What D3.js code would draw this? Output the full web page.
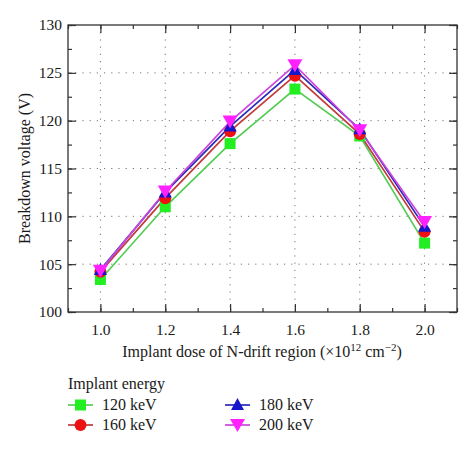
<!DOCTYPE html>
<html><head><meta charset="utf-8">
<script src="https://cdn.jsdelivr.net/npm/d3@7"></script>
<style>body{margin:0;background:#fff;} text{font-family:"Liberation Serif","Times New Roman","DejaVu Serif",serif;fill:#1a1a1a;}</style>
</head><body>
<svg id="c" width="474" height="450"></svg>
<script>
const doses = [1.0, 1.2, 1.4, 1.6, 1.8, 2.0];
const e120 = [103.4, 111.0, 117.6, 123.3, 118.4, 107.2];
const e160 = [104.2, 111.9, 118.9, 124.7, 118.6, 108.4];
const e180 = [104.4, 112.5, 119.4, 125.3, 119.1, 108.9];
const e200 = [104.3, 112.6, 119.9, 125.8, 119.0, 109.4];
const seriesNames = ["120 keV", "160 keV", "180 keV", "200 keV"];
const xTicks = [1.0, 1.2, 1.4, 1.6, 1.8, 2.0];
const yTicks = [100, 105, 110, 115, 120, 125, 130];

const series = [
  {name: seriesNames[0], vals: e120, line: "#55cc55", fill: "#22ee22", sym: "square"},
  {name: seriesNames[1], vals: e160, line: "#c23a3a", fill: "#ee1111", sym: "circle"},
  {name: seriesNames[2], vals: e180, line: "#2a2ab8", fill: "#1515cc", sym: "tri"},
  {name: seriesNames[3], vals: e200, line: "#cc44dd", fill: "#ff22ff", sym: "tridown"}
];

const svg = d3.select("#c");
const L = 68, R = 457, T = 25, B = 312;
const x = d3.scaleLinear().domain([0.9, 2.1]).range([L, R]);
const y = d3.scaleLinear().domain([100, 130]).range([B, T]);

// grid
const g = svg.append("g");
g.selectAll(".gx").data(xTicks).enter().append("line")
  .attr("x1", d => x(d)).attr("x2", d => x(d)).attr("y1", T).attr("y2", B)
  .attr("stroke", "#777").attr("stroke-width", 1).attr("stroke-dasharray", "1.2,6");
g.selectAll(".gy").data(yTicks.slice(1, -1)).enter().append("line")
  .attr("y1", d => y(d)).attr("y2", d => y(d)).attr("x1", L).attr("x2", R)
  .attr("stroke", "#777").attr("stroke-width", 1).attr("stroke-dasharray", "1.2,6");

// axes with inward ticks
const xMinor = d3.range(0.9, 2.1001, 0.1).map(v => +v.toFixed(2));
const yMinor = d3.range(100, 130.01, 2.5);
const fmtX = d3.format(".1f");
function addAxis(axis, tr) {
  const a = svg.append("g").attr("transform", tr).call(axis);
  a.select(".domain").remove();
  a.selectAll("line").attr("stroke", "#333").attr("stroke-width", 1.2);
  a.attr("font-family", null);
  return a;
}
// bottom
addAxis(d3.axisBottom(x).tickValues(xMinor).tickSize(-4).tickFormat(""), `translate(0,${B})`);
const xb = addAxis(d3.axisBottom(x).tickValues(xTicks).tickSize(-8).tickPadding(12).tickFormat(fmtX), `translate(0,${B})`);
xb.selectAll("text").attr("font-size", 15.5);
// top
addAxis(d3.axisTop(x).tickValues(xMinor).tickSize(-4).tickFormat(""), `translate(0,${T})`);
addAxis(d3.axisTop(x).tickValues(xTicks).tickSize(-8).tickFormat(""), `translate(0,${T})`);
// left
addAxis(d3.axisLeft(y).tickValues(yMinor).tickSize(-4).tickFormat(""), `translate(${L},0)`);
const yl = addAxis(d3.axisLeft(y).tickValues(yTicks).tickSize(-8).tickPadding(6).tickFormat(d3.format("d")), `translate(${L},0)`);
yl.selectAll("text").attr("font-size", 15.5);
// right
addAxis(d3.axisRight(y).tickValues(yMinor).tickSize(-4).tickFormat(""), `translate(${R},0)`);
addAxis(d3.axisRight(y).tickValues(yTicks).tickSize(-8).tickFormat(""), `translate(${R},0)`);

svg.append("rect").attr("x", L).attr("y", T).attr("width", R - L).attr("height", B - T)
  .attr("fill", "none").attr("stroke", "#333").attr("stroke-width", 1.3);

function drawMarker(sel, sym, cx, cy, fill) {
  if (sym === "square") {
    sel.append("rect").attr("x", cx - 5.5).attr("y", cy - 5.5).attr("width", 11).attr("height", 11).attr("fill", fill);
  } else if (sym === "circle") {
    sel.append("circle").attr("cx", cx).attr("cy", cy).attr("r", 6).attr("fill", fill);
  } else if (sym === "tri") {
    sel.append("path").attr("d", `M${cx},${cy - 7}L${cx + 6.5},${cy + 5}L${cx - 6.5},${cy + 5}Z`).attr("fill", fill);
  } else {
    sel.append("path").attr("d", `M${cx - 7.5},${cy - 6}L${cx + 7.5},${cy - 6}L${cx},${cy + 7}Z`).attr("fill", fill);
  }
}

const line = d3.line().x(d => x(d[0])).y(d => y(d[1]));
series.forEach(s => {
  const pts = doses.map((d, i) => [d, s.vals[i]]);
  svg.append("path").attr("d", line(pts)).attr("fill", "none").attr("stroke", s.line).attr("stroke-width", 1.7);
});
series.forEach(s => {
  const mg = svg.append("g");
  doses.forEach((d, i) => drawMarker(mg, s.sym, x(d), y(s.vals[i]), s.fill));
});

// axis titles
svg.append("text").attr("transform", `translate(30,${(T + B) / 2}) rotate(-90)`)
  .attr("text-anchor", "middle").attr("font-size", 16).text("Breakdown voltage (V)");
const xt = svg.append("text").attr("x", 262).attr("y", 357).attr("text-anchor", "middle").attr("font-size", 16);
xt.append("tspan").text("Implant dose of N-drift region (×10");
xt.append("tspan").attr("dy", -6).attr("font-size", 11).text("12");
xt.append("tspan").attr("dy", 6).text(" cm");
xt.append("tspan").attr("dy", -6).attr("font-size", 11).text("−2");
xt.append("tspan").attr("dy", 6).text(")");

// legend
svg.append("text").attr("x", 68).attr("y", 389).attr("font-size", 16).text("Implant energy");
const legPos = [[68, 410], [68, 430], [225, 410], [225, 430]];
series.forEach((s, i) => {
  const [lx, ly] = legPos[i];
  const lg = svg.append("g");
  lg.append("line").attr("x1", lx).attr("x2", lx + 25).attr("y1", ly - 5).attr("y2", ly - 5)
    .attr("stroke", s.line).attr("stroke-width", 1.7);
  drawMarker(lg, s.sym, lx + 12.5, ly - 5, s.fill);
  lg.append("text").attr("x", lx + 34).attr("y", ly).attr("font-size", 16).text(s.name);
});
</script>
</body></html>
